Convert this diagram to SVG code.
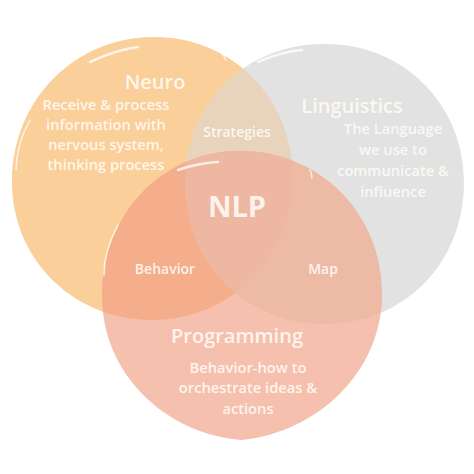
<svg xmlns="http://www.w3.org/2000/svg" width="474" height="474" viewBox="0 0 474 474">
  <defs>
    <path id="shapeN" d="M152,37 C232,36 293,98 293,178 C293,258 230,321 150,320 C72,319 11,258 12,180 C13,100 74,38 152,37 Z"/>
    <path id="shapeL" d="M322,44 C402,42 465,104 464,184 C463,264 404,324 324,324 C246,324 185,262 185,184 C185,104 244,45 322,44 Z"/>
    <path id="shapeP" d="M240,151 C320,151 383,214 382,296 C381,372 318,432 242,440 C164,434 101,372 102,294 C103,214 162,151 240,151 Z"/>
    <clipPath id="clipN"><use href="#shapeN"/></clipPath>
    <clipPath id="clipL"><use href="#shapeL"/></clipPath>
    <style>
      .t { font-family: "Open Sans", "Liberation Sans", sans-serif; font-weight: 700; fill: #fffaf4; fill-opacity: 0.92; text-anchor: middle; }
      .title { font-size: 20px; font-weight: 600; }
      .body { font-size: 14.7px; font-weight: 600; }
      .small { font-size: 14px; font-weight: 600; }
      .big { font-size: 29px; font-weight: 700; }
      .hl { fill: none; stroke: #ffffff; stroke-opacity: 0.75; stroke-linecap: round; }
    </style>
  </defs>
  <rect width="474" height="474" fill="#ffffff"/>

  <g id="neuro">
    <use href="#shapeN" fill="#fbcf99"/>
    <path class="hl" d="M90,62 Q115,50 138,47" stroke-width="2.5"/>
    <path class="hl" d="M30,120 Q16,145 16,170" stroke-width="1.5"/>
    <path class="hl" d="M220,52 Q224,55 226,60" stroke-width="1.5"/>
  </g>
  <g id="linguistics">
    <use href="#shapeL" fill="#e2e2e2"/>
    <path class="hl" d="M258,62 Q280,52 302,50" stroke-width="2.5"/>
    <path class="hl" d="M390,52 Q393,56 394,60" stroke-width="1.5"/>
  </g>
  <g id="programming">
    <use href="#shapeP" fill="#f5c1ae"/>
  </g>
  <g id="strategies">
    <use href="#shapeL" fill="#e8d4bd" clip-path="url(#clipN)"/>
  </g>
  <g id="behavior">
    <use href="#shapeP" fill="#f4ae8b" clip-path="url(#clipN)"/>
  </g>
  <g id="map">
    <use href="#shapeP" fill="#edbaa6" clip-path="url(#clipL)"/>
  </g>
  <g id="nlp">
    <g clip-path="url(#clipL)">
      <use href="#shapeP" fill="#eeb7a1" clip-path="url(#clipN)"/>
    </g>
  </g>
  <g id="highlights">
    <path class="hl" d="M178,170 Q198,163 218,162" stroke-width="2.5"/>
    <path class="hl" d="M118,225 Q104,250 104,275" stroke-width="1.5"/>
    <path class="hl" d="M310,170 Q312,174 312,178" stroke-width="1.5"/>
  </g>

  <g id="labels">
    <text class="t title" x="155" y="89">Neuro</text>
    <text class="t body" x="106" y="110">Receive &amp; process</text>
    <text class="t body" x="106" y="130">information with</text>
    <text class="t body" x="106" y="150">nervous system,</text>
    <text class="t body" x="106" y="170">thinking process</text>

    <text class="t title" x="352" y="113">Linguistics</text>
    <text class="t body" x="393" y="134">The Language</text>
    <text class="t body" x="393" y="155">we use to</text>
    <text class="t body" x="393" y="176">communicate &amp;</text>
    <text class="t body" x="393" y="197">influence</text>

    <text class="t small" x="237" y="137">Strategies</text>
    <text class="t big" x="237" y="217">NLP</text>
    <text class="t small" x="165" y="274">Behavior</text>
    <text class="t small" x="323" y="274">Map</text>

    <text class="t title" x="237" y="343">Programming</text>
    <text class="t body" x="248" y="373">Behavior-how to</text>
    <text class="t body" x="248" y="393">orchestrate ideas &amp;</text>
    <text class="t body" x="248" y="414">actions</text>
  </g>
</svg>
